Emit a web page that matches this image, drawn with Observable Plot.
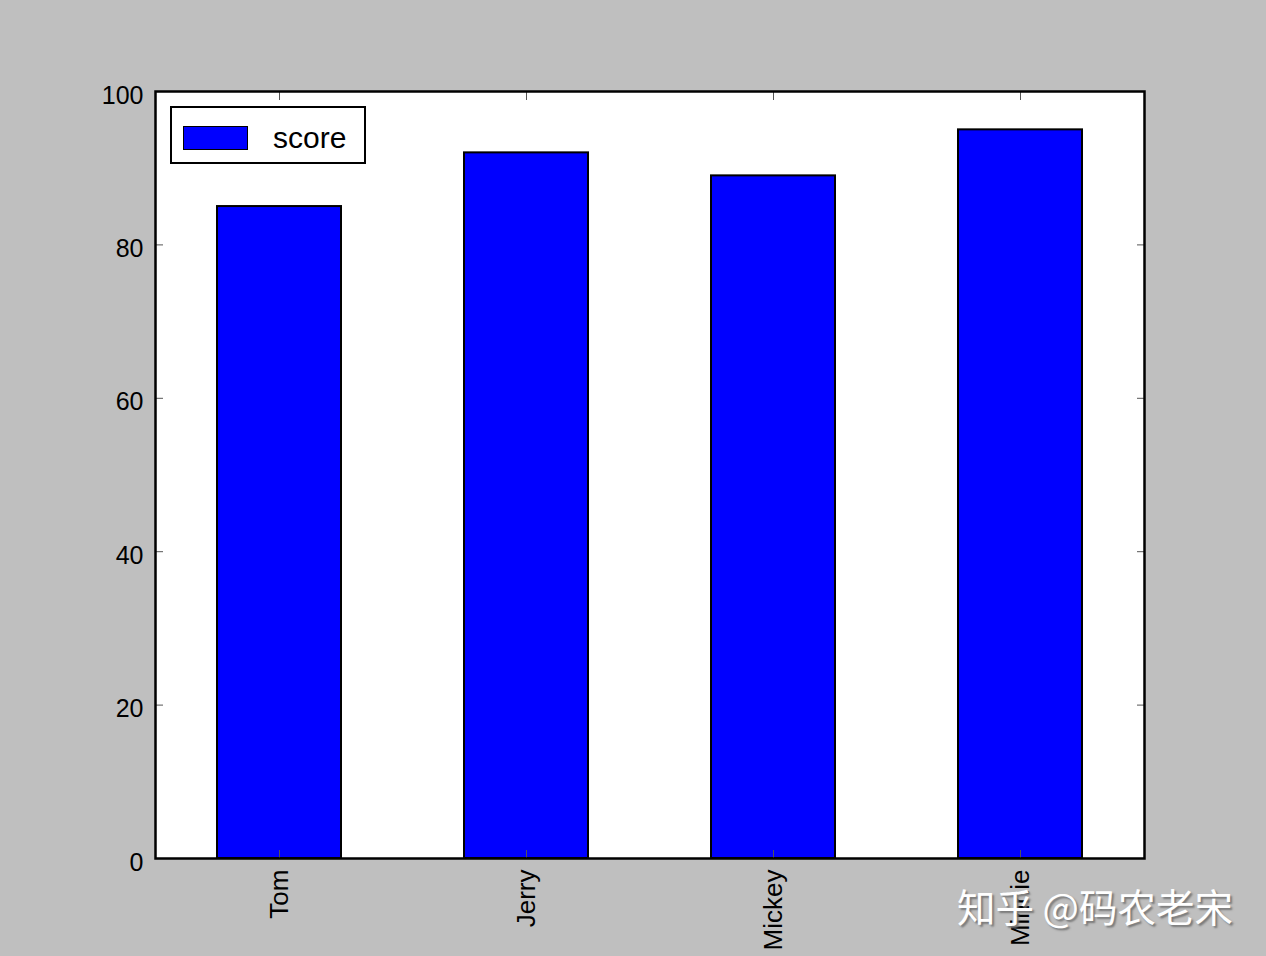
<!DOCTYPE html>
<html>
<head>
<meta charset="utf-8">
<script src="https://cdn.jsdelivr.net/npm/d3@7"></script>
<script src="https://cdn.jsdelivr.net/npm/@observablehq/plot@0.6"></script>
<style>
  html, body { margin: 0; padding: 0; background: #bfbfbf; }
  #wrap { position: relative; width: 1266px; height: 956px; overflow: hidden; }
  #legend { position: absolute; left: 170px; top: 106px; width: 192px; height: 54px;
    background: #fff; border: 2px solid #000; box-sizing: content-box; }
  #legend .patch { position: absolute; left: 11px; top: 18px; width: 63px; height: 22px;
    background: #0000ff; border: 1.5px solid #000; }
  #legend .lab { position: absolute; left: 101px; top: 13px; font: 30px "Liberation Sans", Arial, sans-serif; color: #000; }
  #wm { position: absolute; left: 957px; top: 877px; font: 38.5px "Noto Sans CJK SC", sans-serif;
    color: #fff; text-shadow: 2px 2px 2px #777; white-space: nowrap; }
</style>
</head>
<body>
<div id="wrap">
  <div id="chart"></div>
  <div id="legend"><div class="patch"></div><div class="lab">score</div></div>
  <div id="wm">知乎 @码农老宋</div>
</div>
<script>
const names = ["Tom", "Jerry", "Mickey", "Minnie"];
const scores = [85, 92, 89, 95];
const yTicks = [0, 20, 40, 60, 80, 100];
const data = names.map((name, i) => ({name, score: scores[i]}));

const font = '"Liberation Sans", Arial, sans-serif';
const chart = Plot.plot({
  width: 1266,
  height: 956,
  marginLeft: 155,
  marginRight: 122,
  marginTop: 91,
  marginBottom: 98,
  style: {background: "#bfbfbf", fontFamily: font, fontSize: "25px", color: "#000"},
  x: {domain: names, paddingInner: 0.5, paddingOuter: 0.25, label: null},
  y: {domain: [0, 100], label: null},
  marks: [
    Plot.frame({fill: "white", stroke: "none"}),
    Plot.barY(data, {x: "name", y: "score", fill: "#0000ff", stroke: "#000", strokeWidth: 2}),
    Plot.axisY({ticks: yTicks, tickSize: 0, tickPadding: 12, dy: 4, label: null, fontSize: 25}),
    Plot.axisY({ticks: yTicks, tickSize: -8, fill: "none", label: null, stroke: "#555"}),
    Plot.axisY({ticks: yTicks, anchor: "right", tickSize: -8, fill: "none", label: null, stroke: "#555"}),
    Plot.axisX({tickSize: 0, tickRotate: -90, tickPadding: 11, label: null, fontSize: 26}),
    Plot.axisX({tickSize: -8, fill: "none", label: null, stroke: "#555"}),
    Plot.axisX({anchor: "top", tickSize: -8, fill: "none", label: null, stroke: "#555"}),
    Plot.frame({stroke: "#000", strokeWidth: 2.5})
  ]
});
document.getElementById("chart").appendChild(chart);
</script>
</body>
</html>
